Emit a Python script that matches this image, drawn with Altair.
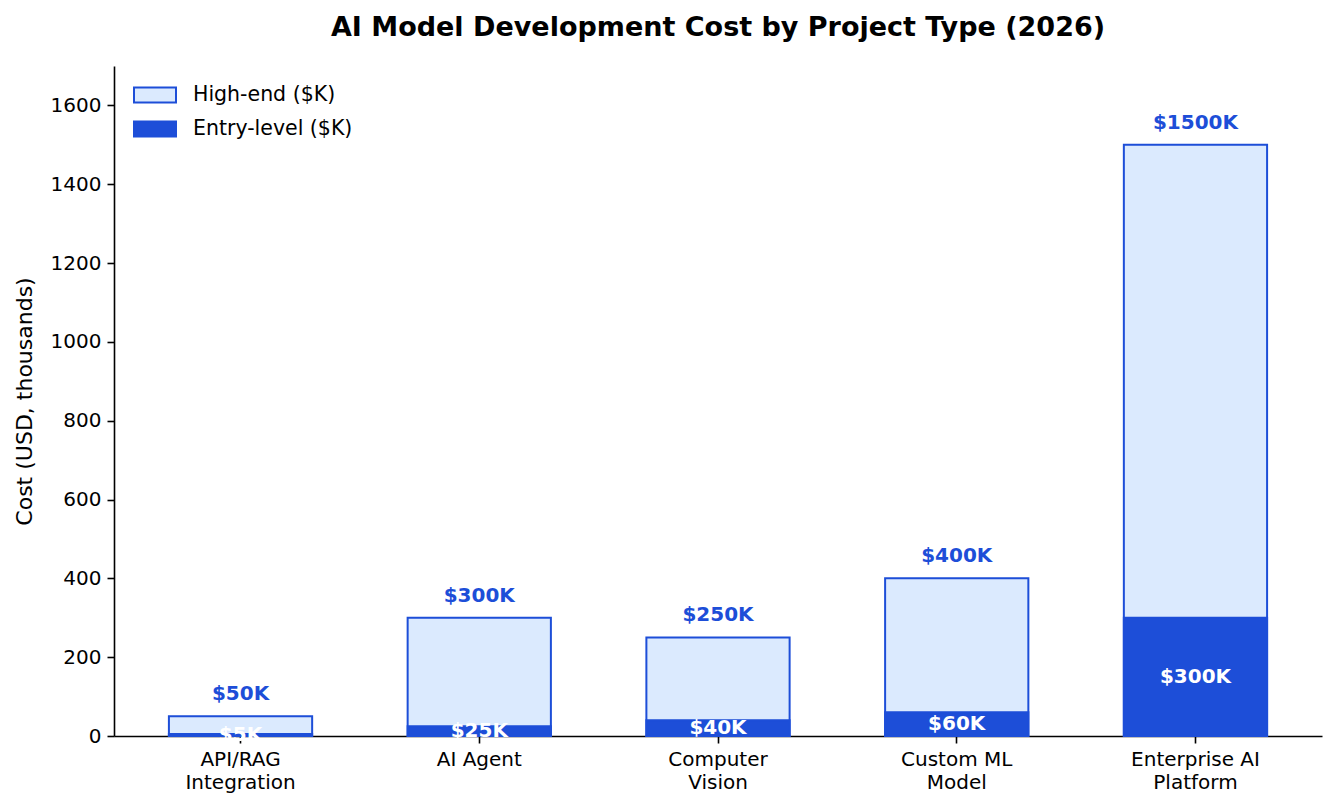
import altair as alt
import pandas as pd

# Project categories (line breaks become multi-line axis labels)
categories = [
    "API/RAG\nIntegration",
    "AI Agent",
    "Computer\nVision",
    "Custom ML\nModel",
    "Enterprise AI\nPlatform",
]
high_end = [50, 300, 250, 400, 1500]      # $K
entry_level = [5, 25, 40, 60, 300]        # $K
series_names = ["High-end ($K)", "Entry-level ($K)"]
y_ticks = [0, 200, 400, 600, 800, 1000, 1200, 1400, 1600]

DARK = "#1d4ed8"
LIGHT = "#dbeafe"
FONT = "DejaVu Sans"

rows = []
for i, cat in enumerate(categories):
    rows.append({"project": cat, "series": series_names[0], "cost": high_end[i],
                 "layer": 0, "label": f"${high_end[i]}K"})
    rows.append({"project": cat, "series": series_names[1], "cost": entry_level[i],
                 "layer": 1, "label": f"${entry_level[i]}K"})
df = pd.DataFrame(rows)

x_enc = alt.X(
    "project:N",
    sort=categories,
    scale=alt.Scale(paddingInner=0.4, paddingOuter=0.23),
    axis=alt.Axis(
        title=None, labelAngle=0, labelExpr="split(datum.label, '\\n')",
        labelFont=FONT, labelFontSize=20, labelLineHeight=23, labelColor="black",
        tickSize=7, tickWidth=1.6, tickColor="black", labelPadding=6,
        domainColor="black", domainWidth=1.6,
    ),
)

y_enc = alt.Y(
    "cost:Q",
    stack=None,
    scale=alt.Scale(domain=[0, 1700], nice=False),
    axis=alt.Axis(
        title="Cost (USD, thousands)", titleFont=FONT, titleFontSize=22,
        titleFontWeight="normal", titleColor="black", titlePadding=14,
        values=y_ticks, format="d", labelFont=FONT, labelFontSize=20,
        labelColor="black", tickSize=7, tickWidth=1.6, tickColor="black",
        labelPadding=6, domainColor="black", domainWidth=1.6, grid=False,
    ),
)

legend_cfg = alt.Legend(
    title=None, orient="none", legendX=19, legendY=7,
    symbolType="M-1,-0.357H1V0.357H-1Z", symbolSize=1764, symbolStrokeWidth=2,
    labelFont=FONT, labelFontSize=20.5, labelColor="black", labelOffset=16,
    rowPadding=-20,
)

bars = alt.Chart(df).mark_bar(strokeWidth=2).encode(
    x=x_enc,
    y=y_enc,
    fill=alt.Fill("series:N", scale=alt.Scale(domain=series_names, range=[LIGHT, DARK]),
                  legend=legend_cfg),
    stroke=alt.Stroke("series:N", scale=alt.Scale(domain=series_names, range=[DARK, DARK]),
                      legend=legend_cfg),
    order=alt.Order("layer:Q"),
)

top_labels = alt.Chart(df).transform_filter(
    alt.datum.layer == 0
).mark_text(font=FONT, fontSize=20, fontWeight="bold", color=DARK,
            baseline="middle", dy=-22).encode(
    x=alt.X("project:N", sort=categories),
    y=alt.Y("cost:Q"),
    text="label:N",
)

entry_labels = alt.Chart(df).transform_filter(
    alt.datum.layer == 1
).transform_calculate(
    mid="datum.cost / 2"
).mark_text(font=FONT, fontSize=20, fontWeight="bold", color="white",
            baseline="middle").encode(
    x=alt.X("project:N", sort=categories),
    y=alt.Y("mid:Q"),
    text="label:N",
)

chart = alt.layer(bars, top_labels, entry_labels).properties(
    width=1208,
    height=670,
    autosize=alt.AutoSizeParams(type="none"),
    padding={"left": 114, "top": 66, "right": 13, "bottom": 72},
    title=alt.Title(
        "AI Model Development Cost by Project Type (2026)",
        font=FONT, fontSize=27, fontWeight="bold", color="black",
        anchor="middle", offset=24,
    ),
).configure(background="white").configure_view(stroke=None)

chart.save("out.html", embed_options={"renderer": "svg", "actions": False})
